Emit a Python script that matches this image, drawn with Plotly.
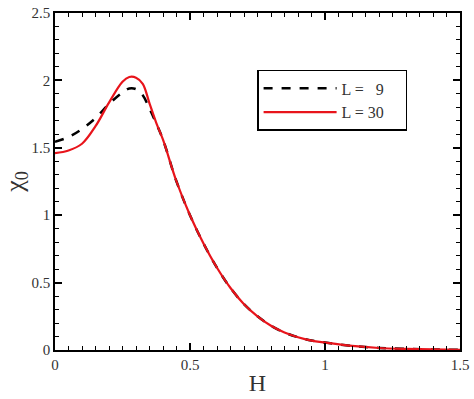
import plotly.graph_objects as go

H = [0, 0.05, 0.1, 0.15, 0.2, 0.25, 0.275, 0.3, 0.325, 0.35, 0.375, 0.4, 0.45, 0.5,
     0.55, 0.6, 0.65, 0.7, 0.75, 0.8, 0.85, 0.9, 0.95, 1.0, 1.1, 1.2, 1.3, 1.4, 1.5]
chi_L9 = [1.545, 1.58, 1.64, 1.72, 1.825, 1.91, 1.94, 1.935, 1.89, 1.79, 1.68, 1.56, 1.25, 1.0,
          0.79, 0.61, 0.46, 0.34, 0.25, 0.18, 0.13, 0.095, 0.07, 0.055, 0.03, 0.015, 0.008, 0.004, 0.002]
chi_L30 = [1.46, 1.48, 1.53, 1.66, 1.835, 1.99, 2.025, 2.02, 1.975, 1.83, 1.685, 1.56, 1.25, 1.0,
           0.79, 0.61, 0.46, 0.34, 0.25, 0.18, 0.13, 0.095, 0.07, 0.055, 0.03, 0.015, 0.008, 0.004, 0.002]
legend_names = ["L =\u00a0\u00a0 9\u00a0\u00a0\u00a0\u00a0", "L = 30\u00a0\u00a0\u00a0\u00a0"]

font = "Liberation Serif, serif"

fig = go.Figure()
fig.add_trace(go.Scatter(x=H, y=chi_L9, mode="lines", name=legend_names[0],
                         line=dict(color="black", width=2.5, dash="dash", shape="spline")))
fig.add_trace(go.Scatter(x=H, y=chi_L30, mode="lines", name=legend_names[1],
                         line=dict(color="#e8141b", width=2.2, shape="spline")))

axis_common = dict(showline=True, linecolor="black", linewidth=1.5, mirror="allticks",
                   ticks="inside", ticklen=7, tickwidth=1.5, tickcolor="black",
                   showgrid=False, zeroline=False, automargin=False,
                   tickfont=dict(family=font, size=15, color="#333"))

fig.update_xaxes(range=[0, 1.5], dtick=0.5, tick0=0,
                 minor=dict(dtick=0.05, ticklen=4, tickwidth=1.2, tickcolor="black", ticks="inside"),
                 title=dict(text="H", font=dict(family=font, size=24, color="#333"), standoff=2),
                 **axis_common)
fig.update_yaxes(range=[0, 2.5], dtick=0.5, tick0=0,
                 minor=dict(dtick=0.1, ticklen=4, tickwidth=1.2, tickcolor="black", ticks="inside"),
                 title=dict(text="χ<sub>0</sub>", font=dict(family=font, size=26, color="#333"), standoff=8),
                 **axis_common)

fig.update_layout(width=474, height=399, margin=dict(l=55, r=14, t=13, b=49),
                  paper_bgcolor="white", plot_bgcolor="white",
                  legend=dict(x=0.499, y=0.831, xanchor="left", yanchor="top",
                              bordercolor="black", borderwidth=1.5, bgcolor="white",
                              font=dict(family=font, size=16, color="#333"),
                              itemwidth=73, tracegroupgap=0))

fig.write_html("out.html", config={"displayModeBar": False},
               post_script="document.body.style.margin='0';")
